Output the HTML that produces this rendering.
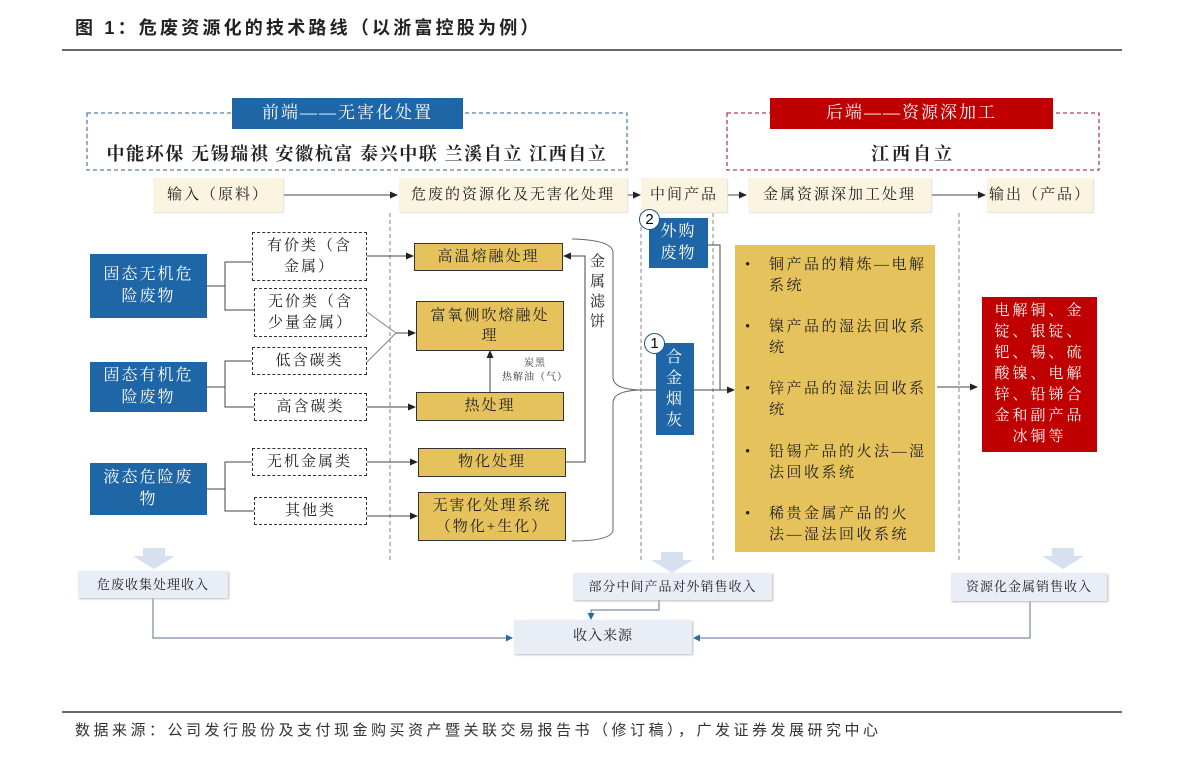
<!DOCTYPE html>
<html><head><meta charset="utf-8"><style>
body{margin:0;background:#fff;}
#c{position:relative;width:1191px;height:759px;overflow:hidden;font-family:"Liberation Serif","Noto Serif CJK SC",serif;color:#222;}
.b{position:absolute;display:flex;align-items:center;justify-content:center;text-align:center;box-sizing:border-box;line-height:1.35;letter-spacing:2px;}
.blue{background:#1f66a6;color:#fff;font-size:16px;}
.yel{background:#e5c25b;border:1.5px solid #333;font-size:15px;}
.dash{border:1.5px dashed #333;background:#fff;font-size:15px;}
.beige{background:#fbf4e0;font-size:15px;box-shadow:1px 1px 1px #ddd;}
.gray{background:#e9eef6;font-size:13px;box-shadow:1px 1px 2px #bbb;letter-spacing:1px;}
.circ{position:absolute;width:19px;height:19px;border:1.5px solid #1f4f80;border-radius:50%;background:#fff;font:15px "Liberation Sans",sans-serif;text-align:center;line-height:19px;color:#000;}
svg{position:absolute;left:0;top:0;}
.bl{position:absolute;left:34px;width:160px;letter-spacing:2.5px;}
.bd{position:absolute;left:10px;}
</style></head><body><div id="c">
<svg width="1191" height="759">
<defs><marker id="a" markerWidth="8" markerHeight="8" refX="7" refY="4" orient="auto" markerUnits="userSpaceOnUse"><path d="M0,0.5 L8,4 L0,7.5z" fill="#222"/></marker>
<marker id="ab" markerWidth="7" markerHeight="7" refX="6" refY="3.5" orient="auto" markerUnits="userSpaceOnUse"><path d="M0,0 L7,3.5 L0,7z" fill="#2a6aa8"/></marker></defs>
<line x1="62" y1="50" x2="1122" y2="50" stroke="#333" stroke-width="1.5"/>
<line x1="62" y1="712" x2="1122" y2="712" stroke="#333" stroke-width="1.5"/>
<rect x="87" y="113" width="540" height="57" fill="none" stroke="#5a7fa8" stroke-dasharray="4,3" stroke-width="1.3"/>
<rect x="727" y="113" width="372" height="57" fill="none" stroke="#b04050" stroke-dasharray="4,3" stroke-width="1.3"/>
<g stroke="#999" stroke-dasharray="4,3" stroke-width="1.2">
<line x1="390" y1="213" x2="390" y2="560"/><line x1="641" y1="213" x2="641" y2="560"/><line x1="713" y1="213" x2="713" y2="560"/><line x1="959" y1="213" x2="959" y2="560"/></g>
<g stroke="#444" stroke-width="1" fill="none">
<line x1="283" y1="195" x2="397" y2="195" marker-end="url(#a)"/>
<line x1="627" y1="195" x2="640" y2="195" marker-end="url(#a)"/>
<line x1="727" y1="195" x2="746" y2="195" marker-end="url(#a)"/>
<line x1="931" y1="195" x2="985" y2="195" marker-end="url(#a)"/>
<path d="M207,286 H225 V262 H252 M225,286 V310 H254"/>
<path d="M207,387 H225 V361 H252 M225,387 V407 H254"/>
<path d="M207,489 H225 V462 H252 M225,489 V511 H254"/>
<line x1="367" y1="256" x2="413" y2="256" marker-end="url(#a)"/>
<path d="M367,312 L396,333 M367,362 L396,333" stroke="#888"/>
<line x1="396" y1="333" x2="415" y2="333" marker-end="url(#a)"/>
<line x1="367" y1="407" x2="415" y2="407" marker-end="url(#a)"/>
<line x1="367" y1="462" x2="417" y2="462" marker-end="url(#a)"/>
<line x1="367" y1="516" x2="417" y2="516" marker-end="url(#a)"/>
<line x1="490" y1="392" x2="490" y2="351" marker-end="url(#a)"/>
<path d="M566,462 H585 V256 H564" marker-end="url(#a)"/>
<path d="M572,239 Q612,240 613,252 V378 Q614,390 643,390 Q614,390 613,402 V530 Q612,541 572,541" stroke="#666"/>
<line x1="643" y1="390" x2="656" y2="390"/>
<path d="M708,245 H720 V390"/>
<line x1="694" y1="390" x2="734" y2="390" marker-end="url(#a)"/>
<line x1="937" y1="387" x2="977" y2="387" marker-end="url(#a)"/>
</g>
<g fill="#d6e0ee"><path d="M143,548 h22 v8 h10 l-21,13 l-21,-13 h10z"/><path d="M661,552 h22 v8 h10 l-21,13 l-21,-13 h10z"/><path d="M1052,548 h22 v8 h10 l-21,13 l-21,-13 h10z"/></g>
<g stroke="#7a8aa0" stroke-width="1.2" fill="none">
<path d="M153,598 V638 H512" marker-end="url(#ab)"/>
<path d="M659,600 V610 H591 V619" marker-end="url(#ab)"/>
<path d="M1030,601 V638 H694" marker-end="url(#ab)"/>
</g>
</svg>
<div style="position:absolute;left:75px;top:14px;font-size:18px;font-weight:bold;letter-spacing:3.2px;font-family:'Liberation Sans','Noto Sans CJK SC',sans-serif;">图 1：危废资源化的技术路线（以浙富控股为例）</div>
<div class="b blue" style="left:232px;top:98px;width:231px;height:31px;font-size:17px;">前端——无害化处置</div>
<div class="b" style="left:770px;top:98px;width:283px;height:31px;background:#c00000;color:#fff;font-size:17px;">后端——资源深加工</div>
<div class="b" style="left:88px;top:140px;width:538px;height:28px;font-size:18px;font-weight:bold;letter-spacing:1.6px;">中能环保 无锡瑞祺 安徽杭富 泰兴中联 兰溪自立 江西自立</div>
<div class="b" style="left:728px;top:140px;width:370px;height:28px;font-size:18px;font-weight:bold;letter-spacing:3px;">江西自立</div>
<div class="b beige" style="left:153px;top:178px;width:130px;height:34px;">输入（原料）</div>
<div class="b beige" style="left:399px;top:178px;width:228px;height:34px;">危废的资源化及无害化处理</div>
<div class="b beige" style="left:641px;top:178px;width:86px;height:34px;">中间产品</div>
<div class="b beige" style="left:748px;top:178px;width:183px;height:34px;">金属资源深加工处理</div>
<div class="b beige" style="left:987px;top:178px;width:106px;height:34px;">输出（产品）</div>
<div class="b blue" style="left:90px;top:254px;width:117px;height:64px;">固态无机危<br>险废物</div>
<div class="b blue" style="left:90px;top:362px;width:117px;height:50px;">固态有机危<br>险废物</div>
<div class="b blue" style="left:90px;top:463px;width:117px;height:52px;">液态危险废<br>物</div>
<div class="b dash" style="left:252px;top:232px;width:115px;height:49px;">有价类（含<br>金属）</div>
<div class="b dash" style="left:254px;top:288px;width:113px;height:49px;">无价类（含<br>少量金属）</div>
<div class="b dash" style="left:252px;top:347px;width:115px;height:28px;">低含碳类</div>
<div class="b dash" style="left:254px;top:393px;width:113px;height:28px;">高含碳类</div>
<div class="b dash" style="left:252px;top:448px;width:115px;height:28px;">无机金属类</div>
<div class="b dash" style="left:254px;top:497px;width:113px;height:28px;">其他类</div>
<div class="b yel" style="left:414px;top:243px;width:149px;height:28px;">高温熔融处理</div>
<div class="b yel" style="left:416px;top:301px;width:148px;height:50px;">富氧侧吹熔融处<br>理</div>
<div class="b yel" style="left:416px;top:392px;width:148px;height:29px;">热处理</div>
<div class="b yel" style="left:418px;top:448px;width:148px;height:29px;">物化处理</div>
<div class="b yel" style="left:418px;top:492px;width:148px;height:49px;">无害化处理系统<br>（物化+生化）</div>
<div style="position:absolute;left:495px;top:357px;font-size:10px;line-height:14px;text-align:center;color:#333;width:80px;letter-spacing:1px;">炭黑<br>热解油（气）</div>
<div style="position:absolute;left:590px;top:252px;width:18px;font-size:15px;line-height:20px;">金属滤饼</div>
<div class="b blue" style="left:649px;top:218px;width:59px;height:50px;">外购<br>废物</div>
<div class="b blue" style="left:656px;top:343px;width:38px;height:92px;line-height:21px;">合<br>金<br>烟<br>灰</div>
<div class="circ" style="left:639px;top:209px;">2</div>
<div class="circ" style="left:644px;top:333px;">1</div>
<div style="position:absolute;left:735px;top:245px;width:200px;height:307px;background:#e5c25b;font-size:15px;line-height:21px;">
<div class="bd" style="top:10px;">•</div><div class="bl" style="top:10px;">铜产品的精炼—电解系统</div>
<div class="bd" style="top:72px;">•</div><div class="bl" style="top:72px;">镍产品的湿法回收系统</div>
<div class="bd" style="top:134px;">•</div><div class="bl" style="top:134px;">锌产品的湿法回收系统</div>
<div class="bd" style="top:197px;">•</div><div class="bl" style="top:197px;">铅锡产品的火法—湿法回收系统</div>
<div class="bd" style="top:259px;">•</div><div class="bl" style="top:259px;width:150px;">稀贵金属产品的火法—湿法回收系统</div>
</div>
<div class="b" style="left:982px;top:297px;width:115px;height:155px;background:#c00000;color:#fff;font-size:15px;line-height:21px;padding:0 10px;letter-spacing:3px;">电解铜、金锭、银锭、钯、锡、硫酸镍、电解锌、铅锑合金和副产品冰铜等</div>
<div class="b gray" style="left:78px;top:571px;width:150px;height:27px;">危废收集处理收入</div>
<div class="b gray" style="left:573px;top:573px;width:199px;height:27px;">部分中间产品对外销售收入</div>
<div class="b gray" style="left:951px;top:573px;width:156px;height:28px;">资源化金属销售收入</div>
<div class="b gray" style="left:514px;top:620px;width:178px;height:34px;font-size:14px;">收入来源</div>
<div style="position:absolute;left:75px;top:719px;font-size:15px;letter-spacing:3.5px;font-family:'Liberation Sans','Noto Sans CJK SC',sans-serif;color:#333;">数据来源：公司发行股份及支付现金购买资产暨关联交易报告书（修订稿），广发证券发展研究中心</div>
</div></body></html>
